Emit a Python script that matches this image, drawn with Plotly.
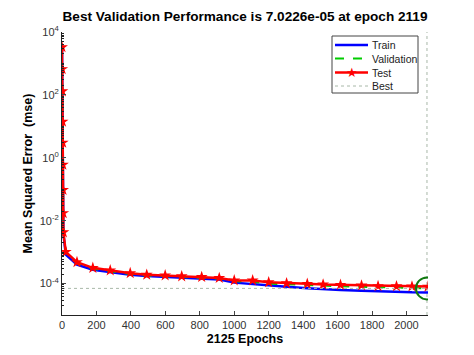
import plotly.graph_objects as go

# ---- data ----
train_epochs = [0, 1, 2, 3, 4, 5, 6, 7, 8, 22, 87, 179, 280, 396, 492, 599, 695, 811, 913,
                1000, 1107, 1200, 1304, 1424, 1516, 1617, 1739, 1835, 1942, 2032, 2125]
train_mse = [3.3e3, 6.4e2, 1.25e2, 13.5, 2.9, 0.58, 0.09, 0.016, 0.0039, 8.3e-4, 4.0e-4,
             2.75e-4, 2.29e-4, 1.91e-4, 1.74e-4, 1.62e-4, 1.55e-4, 1.45e-4, 1.35e-4,
             1.07e-4, 9.8e-5, 8.9e-5, 7.9e-5, 7.1e-5, 6.6e-5, 6.2e-5, 5.9e-5, 5.6e-5,
             5.4e-5, 5.25e-5, 5.2e-5]

val_epochs = [0, 1, 2, 3, 4, 5, 6, 7, 8, 22, 87, 179, 280, 396, 492, 599, 695, 811, 913,
              1000, 1107, 1200, 1304, 1424, 1516, 1617, 1739, 1835, 1942, 2032, 2119, 2125]
val_mse = [3.2e3, 6.5e2, 1.27e2, 13.8, 2.95, 0.59, 0.092, 0.017, 0.0041, 9.2e-4, 4.4e-4,
           2.95e-4, 2.45e-4, 2.0e-4, 1.8e-4, 1.72e-4, 1.62e-4, 1.55e-4, 1.44e-4,
           1.18e-4, 1.14e-4, 1.0e-4, 9.4e-5, 8.9e-5, 8.5e-5, 8.2e-5, 7.9e-5, 7.6e-5,
           7.4e-5, 7.2e-5, 7.0226e-5, 7.05e-5]

test_epochs = [0, 1, 2, 3, 4, 5, 6, 7, 8, 22, 87, 179, 280, 396, 492, 599, 695, 811, 913,
               1000, 1107, 1200, 1304, 1424, 1516, 1617, 1739, 1835, 1942, 2032, 2125]
test_mse = [3.3e3, 6.6e2, 1.3e2, 14.1, 3.0, 0.60, 0.095, 0.0174, 0.00427, 1.02e-3, 4.8e-4,
            3.16e-4, 2.63e-4, 2.14e-4, 1.91e-4, 1.82e-4, 1.70e-4, 1.62e-4, 1.51e-4,
            1.26e-4, 1.26e-4, 1.10e-4, 1.02e-4, 9.8e-5, 9.3e-5, 9.1e-5, 8.7e-5, 8.3e-5,
            8.2e-5, 8.1e-5, 8.0e-5]

best_epoch = 2119
best_perf = 7.0226e-5
total_epochs = 2125

x_ticks = [0, 200, 400, 600, 800, 1000, 1200, 1400, 1600, 1800, 2000]
y_tickvals = [1e-4, 1e-2, 1e0, 1e2, 1e4]
y_ticktext = ["10<sup>-4</sup>", "10<sup>-2</sup>", "10<sup>0</sup>", "10<sup>2</sup>", "10<sup>4</sup>"]
y_min, y_max = 1e-5, 1e4

legend_names = ["Train", "Validation", "Test", "Best"]

FONT = "Liberation Sans, Arial, sans-serif"
C_TRAIN, C_VAL, C_TEST, C_BEST = "#0000ff", "#00cc00", "#ff0000", "#a8b8a8"

# The page body has an 8px margin, so the figure is drawn 8px right and down.
OFF = 8
W, H = 474, 355
# plot area on screen: x 62..428, y 32..315
ML, MR, MT, MB = 62 - OFF, W - (428 - OFF), 32 - OFF, H - (315 - OFF)
PW, PH = W - ML - MR, H - MT - MB


def px(xs):  # screen pixel x -> paper
    return (xs - OFF - ML) / PW


def py(ys):  # screen pixel y (from top) -> paper
    return 1 - (ys - OFF - MT) / PH


fig = go.Figure()
fig.add_trace(go.Scatter(x=train_epochs, y=train_mse, mode="lines", name="Train",
                         line=dict(color=C_TRAIN, width=2.5)))
fig.add_trace(go.Scatter(x=val_epochs, y=val_mse, mode="lines", name="Validation",
                         line=dict(color=C_VAL, width=2, dash="dash")))
fig.add_trace(go.Scatter(x=test_epochs, y=test_mse, mode="lines+markers", name="Test",
                         line=dict(color=C_TEST, width=2.5),
                         marker=dict(symbol="star", size=9, color=C_TEST)))
fig.add_trace(go.Scatter(x=[best_epoch, best_epoch, None, 0, total_epochs],
                         y=[y_min, y_max, None, best_perf, best_perf],
                         mode="lines", name="Best",
                         line=dict(color=C_BEST, width=1, dash="dot")))
fig.add_trace(go.Scatter(x=[best_epoch], y=[best_perf], mode="markers",
                         marker=dict(symbol="circle-open", size=22,
                                     line=dict(color="#107a10", width=2), color="#107a10")))

# ---- custom compact legend (MATLAB style) ----
shapes = [dict(type="rect", xref="paper", yref="paper",
               x0=px(332), x1=px(418), y0=py(93), y1=py(36),
               line=dict(color="#444444", width=1), fillcolor="white", layer="above")]
annotations = []
row_y = [45, 58.5, 72.5, 86]
styles = [dict(color=C_TRAIN, width=2.5), dict(color=C_VAL, width=2, dash="dash"),
          dict(color=C_TEST, width=2.5), dict(color=C_BEST, width=1, dash="dot")]
for name, yy, st in zip(legend_names, row_y, styles):
    shapes.append(dict(type="line", xref="paper", yref="paper",
                       x0=px(335), x1=px(368), y0=py(yy), y1=py(yy),
                       line=st, layer="above"))
    annotations.append(dict(text=name, xref="paper", yref="paper", x=px(370), y=py(yy),
                            xanchor="left", yanchor="middle", showarrow=False,
                            font=dict(size=10.5, color="#222222", family=FONT)))
annotations.append(dict(text="★", xref="paper", yref="paper", x=px(351.5), y=py(row_y[2]),
                        xanchor="center", yanchor="middle", showarrow=False,
                        font=dict(size=13, color=C_TEST, family="DejaVu Sans")))

fig.update_layout(
    width=W, height=H,
    margin=dict(l=ML, r=MR, t=MT, b=MB),
    paper_bgcolor="white", plot_bgcolor="white",
    font=dict(family=FONT, size=11, color="#333333"),
    title=dict(text="<b>Best Validation Performance is 7.0226e-05 at epoch 2119</b>",
               x=px(245), xref="paper", xanchor="center", yref="container",
               y=1 - (16 - OFF) / H, yanchor="middle",
               font=dict(size=13.6, color="black", family=FONT)),
    showlegend=False,
    shapes=shapes,
    annotations=annotations,
)
fig.update_xaxes(range=[0, total_epochs], tickvals=x_ticks, ticks="inside", ticklen=4,
                 showline=True, linecolor="#222222", linewidth=1, showgrid=False,
                 zeroline=False, mirror=False, automargin=False,
                 title=dict(text="<b>2125 Epochs</b>", standoff=4,
                            font=dict(size=12.5, color="black")))
fig.update_yaxes(type="log", range=[-5, 4], tickvals=y_tickvals, ticktext=y_ticktext,
                 ticks="inside", ticklen=4, showline=True, linecolor="#222222", linewidth=1,
                 showgrid=False, zeroline=False, automargin=False,
                 minor=dict(ticks="inside", ticklen=2, dtick="D1", tickcolor="#222222"),
                 title=dict(text="<b>Mean Squared Error  (mse)</b>", standoff=4,
                            font=dict(size=12.5, color="black")))

fig.write_html("out.html")
